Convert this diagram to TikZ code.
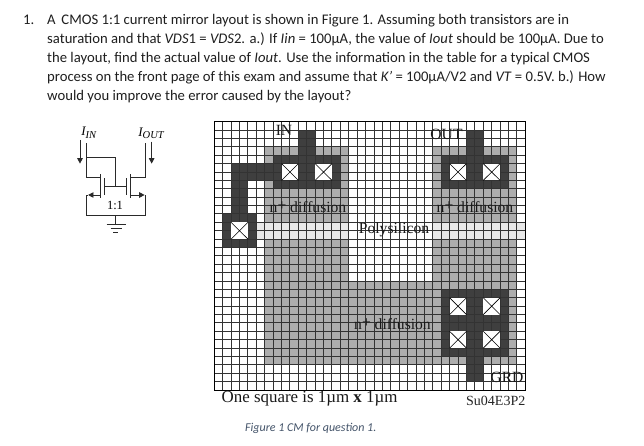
\documentclass[tikz,border=0pt]{standalone}
\usepackage{fontspec}
\setmainfont{Liberation Serif}
\newfontfamily\cali{Carlito}
\usetikzlibrary{arrows.meta}
\definecolor{metalc}{HTML}{3F3F3F}
\definecolor{diffc}{HTML}{ADADAD}
\definecolor{polyc}{HTML}{E8E8E8}
\definecolor{capc}{HTML}{44546A}
\definecolor{wirec}{HTML}{2A2A2A}
\tikzset{
  qline/.style={anchor=base west,inner sep=0pt,font=\cali\fontsize{14.68}{16}\selectfont,text=black!88},
  glabel/.style={inner sep=0pt,font=\fontsize{15.6}{17}\selectfont,text=black!90},
  cktwire/.style={draw=wirec,line width=0.95pt},
  cktarrow/.style={cktwire,-{Triangle[length=5.5pt,width=5.5pt]}},
  gridline/.style={draw=black!80,line width=1pt},
}
\newcommand{\contact}[2]{%
  \fill[white] (#1,#2) rectangle ++(2,2);
  \draw[black,line width=0.6pt] (#1,#2) -- ++(2,2) (#1+2,#2) -- ++(-2,2);
}
\begin{document}
\begin{tikzpicture}[x=1pt,y=-1pt]
\path[use as bounding box,fill=white] (0,0) rectangle (644,446);
% question text
\node[qline] (n1) at (23,24.5) {1.};
\node[qline] (l1) at (47,24.5) {A\, CMOS 1:1 current mirror layout is shown in Figure 1. Assuming both transistors are in};
\node[qline] (l2) at (47,44) {saturation and that \textit{VDS}1 = \textit{VDS}2. a.) If \textit{Iin} = 100µA, the value of \textit{Iout} should be 100µA. Due to};
\node[qline] (l3) at (47,63) {the layout, find the actual value of \textit{Iout}. Use the information in the table for a typical CMOS};
\node[qline] (l4) at (47,82) {process on the front page of this exam and assume that \textit{K’} = 100µA/V2 and \textit{VT} = 0.5V. b.) How};
\node[qline] (l5) at (47,101) {would you improve the error caused by the layout?};
% schematic
\begin{scope}[shift={(60,115)},x=0.3333pt,y=-0.3333pt]
\draw[cktwire] (80,85) -- (80,188) -- (122,188);
\draw[cktwire] (255,85) -- (255,188) -- (210,188);
\draw[cktwire] (80,128) -- (167,128) -- (167,214);
\draw[cktwire] (122,178) -- (122,250);
\draw[cktwire] (134,190) -- (134,240);
\draw[cktwire] (210,178) -- (210,250);
\draw[cktwire] (200,190) -- (200,240);
\draw[cktwire] (134,214) -- (200,214);
\draw[cktarrow] (122,240) -- (84,240);
\draw[cktarrow] (210,240) -- (254,240);
\draw[cktwire] (84,240) -- (80,240) -- (80,302) -- (255,302) -- (255,240);
\draw[cktwire] (167,302) -- (167,328);
\draw[cktwire] (140,328) -- (197,328);
\draw[cktwire] (152,340) -- (185,340);
\draw[cktwire] (160,353) -- (175,353);
\draw[cktarrow] (60,75) -- (60,146);
\draw[cktarrow] (275,80) -- (275,146);
\node[inner sep=0pt,font=\fontsize{13}{14}\selectfont\itshape] (iin) at (87,53) {I\textsubscript{\fontsize{10.5}{12}\selectfont IN}};
\node[inner sep=0pt,font=\fontsize{13}{14}\selectfont\itshape] (iout) at (274,55) {I\textsubscript{\fontsize{10.5}{12}\selectfont OUT}};
\node[inner sep=0pt,font=\fontsize{12.5}{14}\selectfont] (ratio) at (165,272) {1:1};
\end{scope}
% layout
\begin{scope}[shift={(214.3,121.7)},x=8.405pt,y=-8.385pt]
\fill[diffc] (6,3) rectangle (16,19);
\fill[diffc] (26,3) rectangle (36,19);
\fill[diffc] (6,19) rectangle (36,29);
\fill[polyc] (5,12) rectangle (16,14);
\fill[polyc] (26,12) rectangle (37,14);
\fill[metalc] (10,1) rectangle (12,4);
\fill[metalc] (7,4) rectangle (15,8);
\fill[metalc] (2,5) rectangle (7,7);
\fill[metalc] (2,5) rectangle (4,11);
\fill[metalc] (1,11) rectangle (5,15);
\fill[metalc] (30,1) rectangle (32,4);
\fill[metalc] (27,4) rectangle (35,8);
\fill[metalc] (27,20) rectangle (35,28);
\fill[metalc] (30,28) rectangle (32,31);
\foreach \i in {0,...,37} {\draw[gridline] (\i,0) -- (\i,32);}
\foreach \j in {0,...,32} {\draw[gridline] (0,\j) -- (37,\j);}
\contact{8}{5}\contact{12}{5}
\contact{2}{12}
\contact{28}{5}\contact{32}{5}
\contact{28}{21}\contact{32}{21}
\contact{28}{25}\contact{32}{25}
\draw[black,line width=1pt] (0,0) rectangle (37,32);
\end{scope}
\node[glabel] (in) at (284,130.5) {IN};
\node[glabel] (out) at (446.5,134) {OUT};
\node[glabel] (d1) at (308,207.5) {n\raisebox{2pt}{+} diffusion};
\node[glabel] (d2) at (475,207) {n\raisebox{2pt}{+} diffusion};
\node[glabel] (poly) at (394,230) {Polysilicon};
\node[glabel] (d3) at (392.5,324) {n\raisebox{2pt}{+} diffusion};
\node[glabel] (grd) at (507,377) {GRD};
\node[anchor=base west,inner sep=0pt,font=\fontsize{16.9}{18}\selectfont,text=black!90] (scale) at (221.5,402.5) {One square is 1µm \textbf{x} 1µm};
\node[anchor=base east,inner sep=0pt,font=\fontsize{14}{15}\selectfont,text=black!85] (code) at (525.5,405.5) {Su04E3P2};
\node[anchor=base west,inner sep=0pt,font=\cali\itshape\fontsize{12}{13}\selectfont,text=capc] (cap) at (245,431.5) {Figure 1 CM for question 1.};
\end{tikzpicture}
\end{document}
